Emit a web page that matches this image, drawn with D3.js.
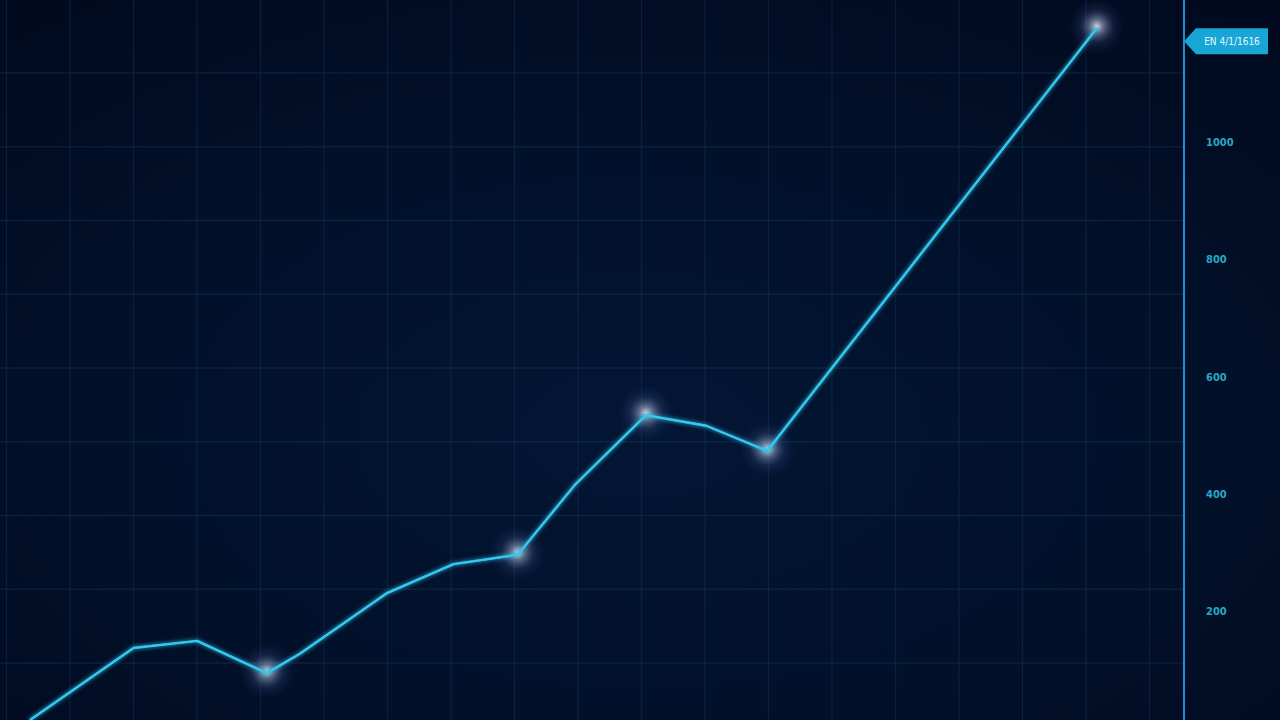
<!DOCTYPE html>
<html>
<head>
<meta charset="utf-8">
<script src="https://cdn.jsdelivr.net/npm/d3@7/dist/d3.min.js"></script>
<style>
  html, body { margin: 0; padding: 0; background: #020b20; }
  svg { display: block; }
</style>
</head>
<body>
<svg id="chart" width="1280" height="720"></svg>
<script>
// ---- data ----
const xPositions = [-0.63, 1, 2, 3.1, 3.62, 5, 6.04, 7.05, 7.95, 9.07, 10.02, 10.98, 16.17];
const values     = [14, 137, 149, 94, 127, 231, 280, 296, 415, 534, 516, 473, 1194];
const glowIndex  = [3, 7, 9, 11, 12];
const tickValues = [1000, 800, 600, 400, 200];
const tickLabels = ["1000", "800", "600", "400", "200"];
const gridCols   = d3.range(-1, 18);
const gridRows   = d3.range(0, 10);
const tagLabel   = "EN 4/1/1616";

const W = 1280, H = 720;
const svg = d3.select("#chart");

const x = d3.scaleLinear().domain([0, 17]).range([70, 1149.5]);
const y = d3.scaleLinear().domain([200, 1000]).range([611, 142]);
const gy = d3.scaleLinear().domain([1, 9]).range([73, 663]);

const defs = svg.append("defs");
const bg = defs.append("radialGradient").attr("id", "bg")
  .attr("cx", "50%").attr("cy", "60%").attr("r", "75%");
bg.append("stop").attr("offset", "0%").attr("stop-color", "#031634");
bg.append("stop").attr("offset", "60%").attr("stop-color", "#021029");
bg.append("stop").attr("offset", "100%").attr("stop-color", "#010a1f");

const glow = defs.append("radialGradient").attr("id", "glow");
glow.append("stop").attr("offset", "0%").attr("stop-color", "#f4f8ff").attr("stop-opacity", 0.85);
glow.append("stop").attr("offset", "25%").attr("stop-color", "#c8d6f0").attr("stop-opacity", 0.45);
glow.append("stop").attr("offset", "60%").attr("stop-color", "#6a80c0").attr("stop-opacity", 0.15);
glow.append("stop").attr("offset", "100%").attr("stop-color", "#3050a0").attr("stop-opacity", 0);

const blur = defs.append("filter").attr("id", "lineGlow")
  .attr("x", "-10%").attr("y", "-10%").attr("width", "120%").attr("height", "120%");
blur.append("feGaussianBlur").attr("stdDeviation", 2).attr("result", "b");
const merge = blur.append("feMerge");
merge.append("feMergeNode").attr("in", "b");
merge.append("feMergeNode").attr("in", "SourceGraphic");

svg.append("rect").attr("width", W).attr("height", H).attr("fill", "url(#bg)");

// grid
svg.append("g").selectAll("line").data(gridCols).join("line")
  .attr("x1", d => x(d)).attr("x2", d => x(d))
  .attr("y1", 0).attr("y2", H)
  .attr("stroke", "#143a60").attr("stroke-opacity", 0.4).attr("stroke-width", 1.3);
svg.append("g").selectAll("line").data(gridRows.filter(d => d >= 1)).join("line")
  .attr("x1", 0).attr("x2", 1184)
  .attr("y1", d => gy(d)).attr("y2", d => gy(d))
  .attr("stroke", "#143a60").attr("stroke-opacity", 0.4).attr("stroke-width", 1.3);

// right axis
const axis = d3.axisRight(y).tickValues(tickValues)
  .tickFormat((d, i) => tickLabels[i]).tickSize(0).tickPadding(22);
const ag = svg.append("g").attr("transform", "translate(1184,0)").call(axis);
ag.select(".domain").remove();
ag.append("line").attr("x1", 0).attr("x2", 0).attr("y1", 0).attr("y2", H)
  .attr("stroke", "#1b8fd0").attr("stroke-width", 2);
ag.selectAll(".tick text")
  .attr("fill", "#28a8c4").attr("font-family", "DejaVu Sans Condensed, DejaVu Sans, sans-serif")
  .attr("font-size", 11).attr("font-weight", "bold");

// glows
const pts = xPositions.map((d, i) => [x(d), y(values[i])]);
svg.append("g").selectAll("circle").data(glowIndex).join("circle")
  .attr("cx", i => pts[i][0]).attr("cy", i => pts[i][1] - 2)
  .attr("r", 28).attr("fill", "url(#glow)");

// line
const line = d3.line().x(d => d[0]).y(d => d[1]);
svg.append("path").datum(pts).attr("d", line)
  .attr("fill", "none").attr("stroke", "#2bbfe8").attr("stroke-width", 2.4)
  .attr("stroke-linejoin", "round").attr("filter", "url(#lineGlow)");
svg.append("path").datum(pts).attr("d", line)
  .attr("fill", "none").attr("stroke", "#38c8ee").attr("stroke-width", 1.8)
  .attr("stroke-linejoin", "round");

// tag
const ty = y(values[values.length - 1]) + 13;
const tag = svg.append("g").attr("transform", `translate(1184,${ty})`);
tag.append("path")
  .attr("d", "M0,0 L12,-13 L84,-13 L84,13 L12,13 Z")
  .attr("fill", "#18a6d6");
tag.append("text").attr("x", 48).attr("y", 4).attr("text-anchor", "middle")
  .attr("fill", "#e6f8ff").attr("font-family", "DejaVu Sans Condensed, DejaVu Sans, sans-serif")
  .attr("font-size", 10).text(tagLabel);
</script>
</body>
</html>
